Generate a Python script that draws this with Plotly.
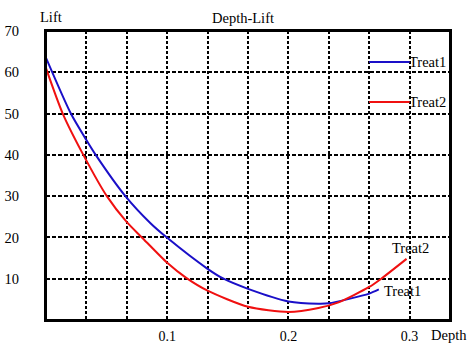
import plotly.graph_objects as go

# Data
treat1_depth = [0.0, 0.0205, 0.0333, 0.041, 0.0655, 0.086, 0.1, 0.1333, 0.1465, 0.1667, 0.2, 0.2248, 0.2333, 0.2667, 0.2746]
treat1_lift = [63.5, 50.0, 43.6, 40.0, 30.0, 23.5, 19.9, 12.4, 10.0, 7.55, 4.5, 3.95, 4.05, 6.4, 7.4]
treat2_depth = [0.0, 0.0138, 0.0308, 0.0502, 0.0667, 0.0791, 0.1, 0.1157, 0.1333, 0.1667, 0.2, 0.2248, 0.2407, 0.2667, 0.2766, 0.2975]
treat2_lift = [61.0, 50.0, 40.0, 30.0, 23.7, 20.0, 13.85, 10.2, 7.1, 3.2, 1.95, 2.9, 4.2, 8.0, 10.0, 14.8]

series_names = ["Treat1", "Treat2"]
series_colors = ["#1a0fc8", "#f01010"]
x_ticks = [0.1, 0.2, 0.3]
x_tick_labels = ["0.1", "0.2", "0.3"]
y_ticks = [10, 20, 30, 40, 50, 60, 70]
y_tick_labels = ["10", "20", "30", "40", "50", "60", "70"]

FONT = "'Liberation Serif', 'Times New Roman', 'DejaVu Serif', serif"
TXT = 14.5

fig = go.Figure()
series = [(treat1_depth, treat1_lift), (treat2_depth, treat2_lift)]
for (xs, ys), name, col in zip(series, series_names, series_colors):
    fig.add_trace(go.Scatter(x=xs, y=ys, mode="lines", name=name,
                             line=dict(color=col, width=2, shape="spline", smoothing=0.7),
                             showlegend=False, cliponaxis=False))

# labels at the end of each curve
fig.add_annotation(x=treat1_depth[-1], y=treat1_lift[-1], text=series_names[0], showarrow=False,
                   xanchor="left", yanchor="middle", xshift=3, yshift=-2,
                   font=dict(family=FONT, size=TXT, color="black"))
fig.add_annotation(x=treat2_depth[-1], y=treat2_lift[-1], text=series_names[1], showarrow=False,
                   xanchor="center", yanchor="middle", xshift=4, yshift=11,
                   font=dict(family=FONT, size=TXT, color="black"))

# manual legend (top right)
legend_y = [0.893, 0.754]
for name, col, ly in zip(series_names, series_colors, legend_y):
    fig.add_shape(type="line", xref="x", yref="paper", x0=0.8 / 3, x1=0.3, y0=ly, y1=ly,
                  line=dict(color=col, width=2))
    fig.add_annotation(xref="x", yref="paper", x=0.3, y=ly, text=name, showarrow=False,
                       xanchor="left", yanchor="middle", xshift=-3,
                       font=dict(family=FONT, size=TXT, color="black"))

# frame drawn as four line segments
frame = [(0, 0, 1, 0), (0, 1, 1, 1), (0, 0, 0, 1), (1, 0, 1, 1)]
for x0, y0, x1, y1 in frame:
    fig.add_shape(type="line", xref="paper", yref="paper", x0=x0, y0=y0, x1=x1, y1=y1,
                  line=dict(color="#000000", width=2), layer="above")

fig.update_xaxes(range=[0, 1/3], tickmode="array", tickvals=x_ticks, ticktext=x_tick_labels,
                 showgrid=True, griddash="3px,2px", gridcolor="black", gridwidth=2,
                 minor=dict(dtick=1/30, tick0=0, showgrid=True, griddash="3px,2px",
                            gridcolor="black", gridwidth=2),
                 showline=True, linecolor="black", linewidth=2, mirror=True,
                 zeroline=False, ticks="", ticklabelstandoff=2,
                 automargin=False,
                 tickfont=dict(family=FONT, size=14, color="black"))
fig.update_yaxes(range=[0, 70], tickmode="array", tickvals=y_ticks, ticktext=y_tick_labels,
                 showgrid=True, griddash="4px,2px", gridcolor="black", gridwidth=2,
                 showline=True, linecolor="black", linewidth=2, mirror=True,
                 zeroline=False, ticks="", ticklabelstandoff=22,
                 automargin=False,
                 tickfont=dict(family=FONT, size=14.5, color="black"))

fig.add_annotation(xref="paper", yref="paper", x=0.012, y=1.0, yshift=14, text="Lift", showarrow=False,
                   xanchor="center", yanchor="middle", font=dict(family=FONT, size=TXT, color="black"))
fig.add_annotation(xref="paper", yref="paper", x=0.9975, y=0, yshift=-15, text="Depth", showarrow=False,
                   xanchor="center", yanchor="middle", font=dict(family=FONT, size=TXT, color="black"))
fig.add_annotation(xref="paper", yref="paper", x=0.4876, y=1.0, yshift=13, text="Depth-Lift", showarrow=False,
                   xanchor="center", yanchor="middle", font=dict(family=FONT, size=TXT, color="black"))

fig.update_layout(width=474, height=350, margin=dict(l=46, r=24, t=31, b=30),
                  plot_bgcolor="white", paper_bgcolor="white", showlegend=False,
                  font=dict(family=FONT, size=TXT, color="black"))
fig.write_html("out.html")
